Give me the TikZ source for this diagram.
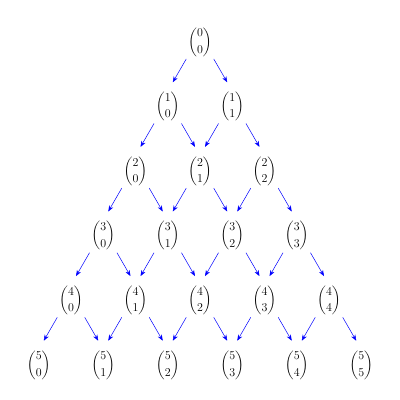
\documentclass[tikz,border=0pt]{standalone}
\usepackage{amsmath}
\usetikzlibrary{arrows.meta}
\begin{document}
\begin{tikzpicture}[x=1pt,y=1pt,
  bn/.style={inner sep=1pt,font=\large},
  arr/.style={draw=blue,line width=0.5pt,-{Stealth[length=6pt,width=4.5pt]},shorten >=10pt,shorten <=1.5pt}]
\useasboundingbox (0,0) rectangle (400,-400);
\foreach \r in {0,...,5}{
  \foreach \k in {0,...,\r}{
    \node[bn] (n\r-\k) at ({200+(2*\k-\r)*32.25},{-42-\r*64.6}) {$\displaystyle\binom{\r}{\k}$};
  }
}
\foreach \r in {0,...,4}{
  \pgfmathtruncatemacro{\rr}{\r+1}
  \foreach \k in {0,...,\r}{
    \pgfmathtruncatemacro{\kk}{\k+1}
    \draw[arr] (n\r-\k.south west) -- (n\rr-\k.north);
    \draw[arr] (n\r-\k.south east) -- (n\rr-\kk.north);
  }
}
\end{tikzpicture}
\end{document}
